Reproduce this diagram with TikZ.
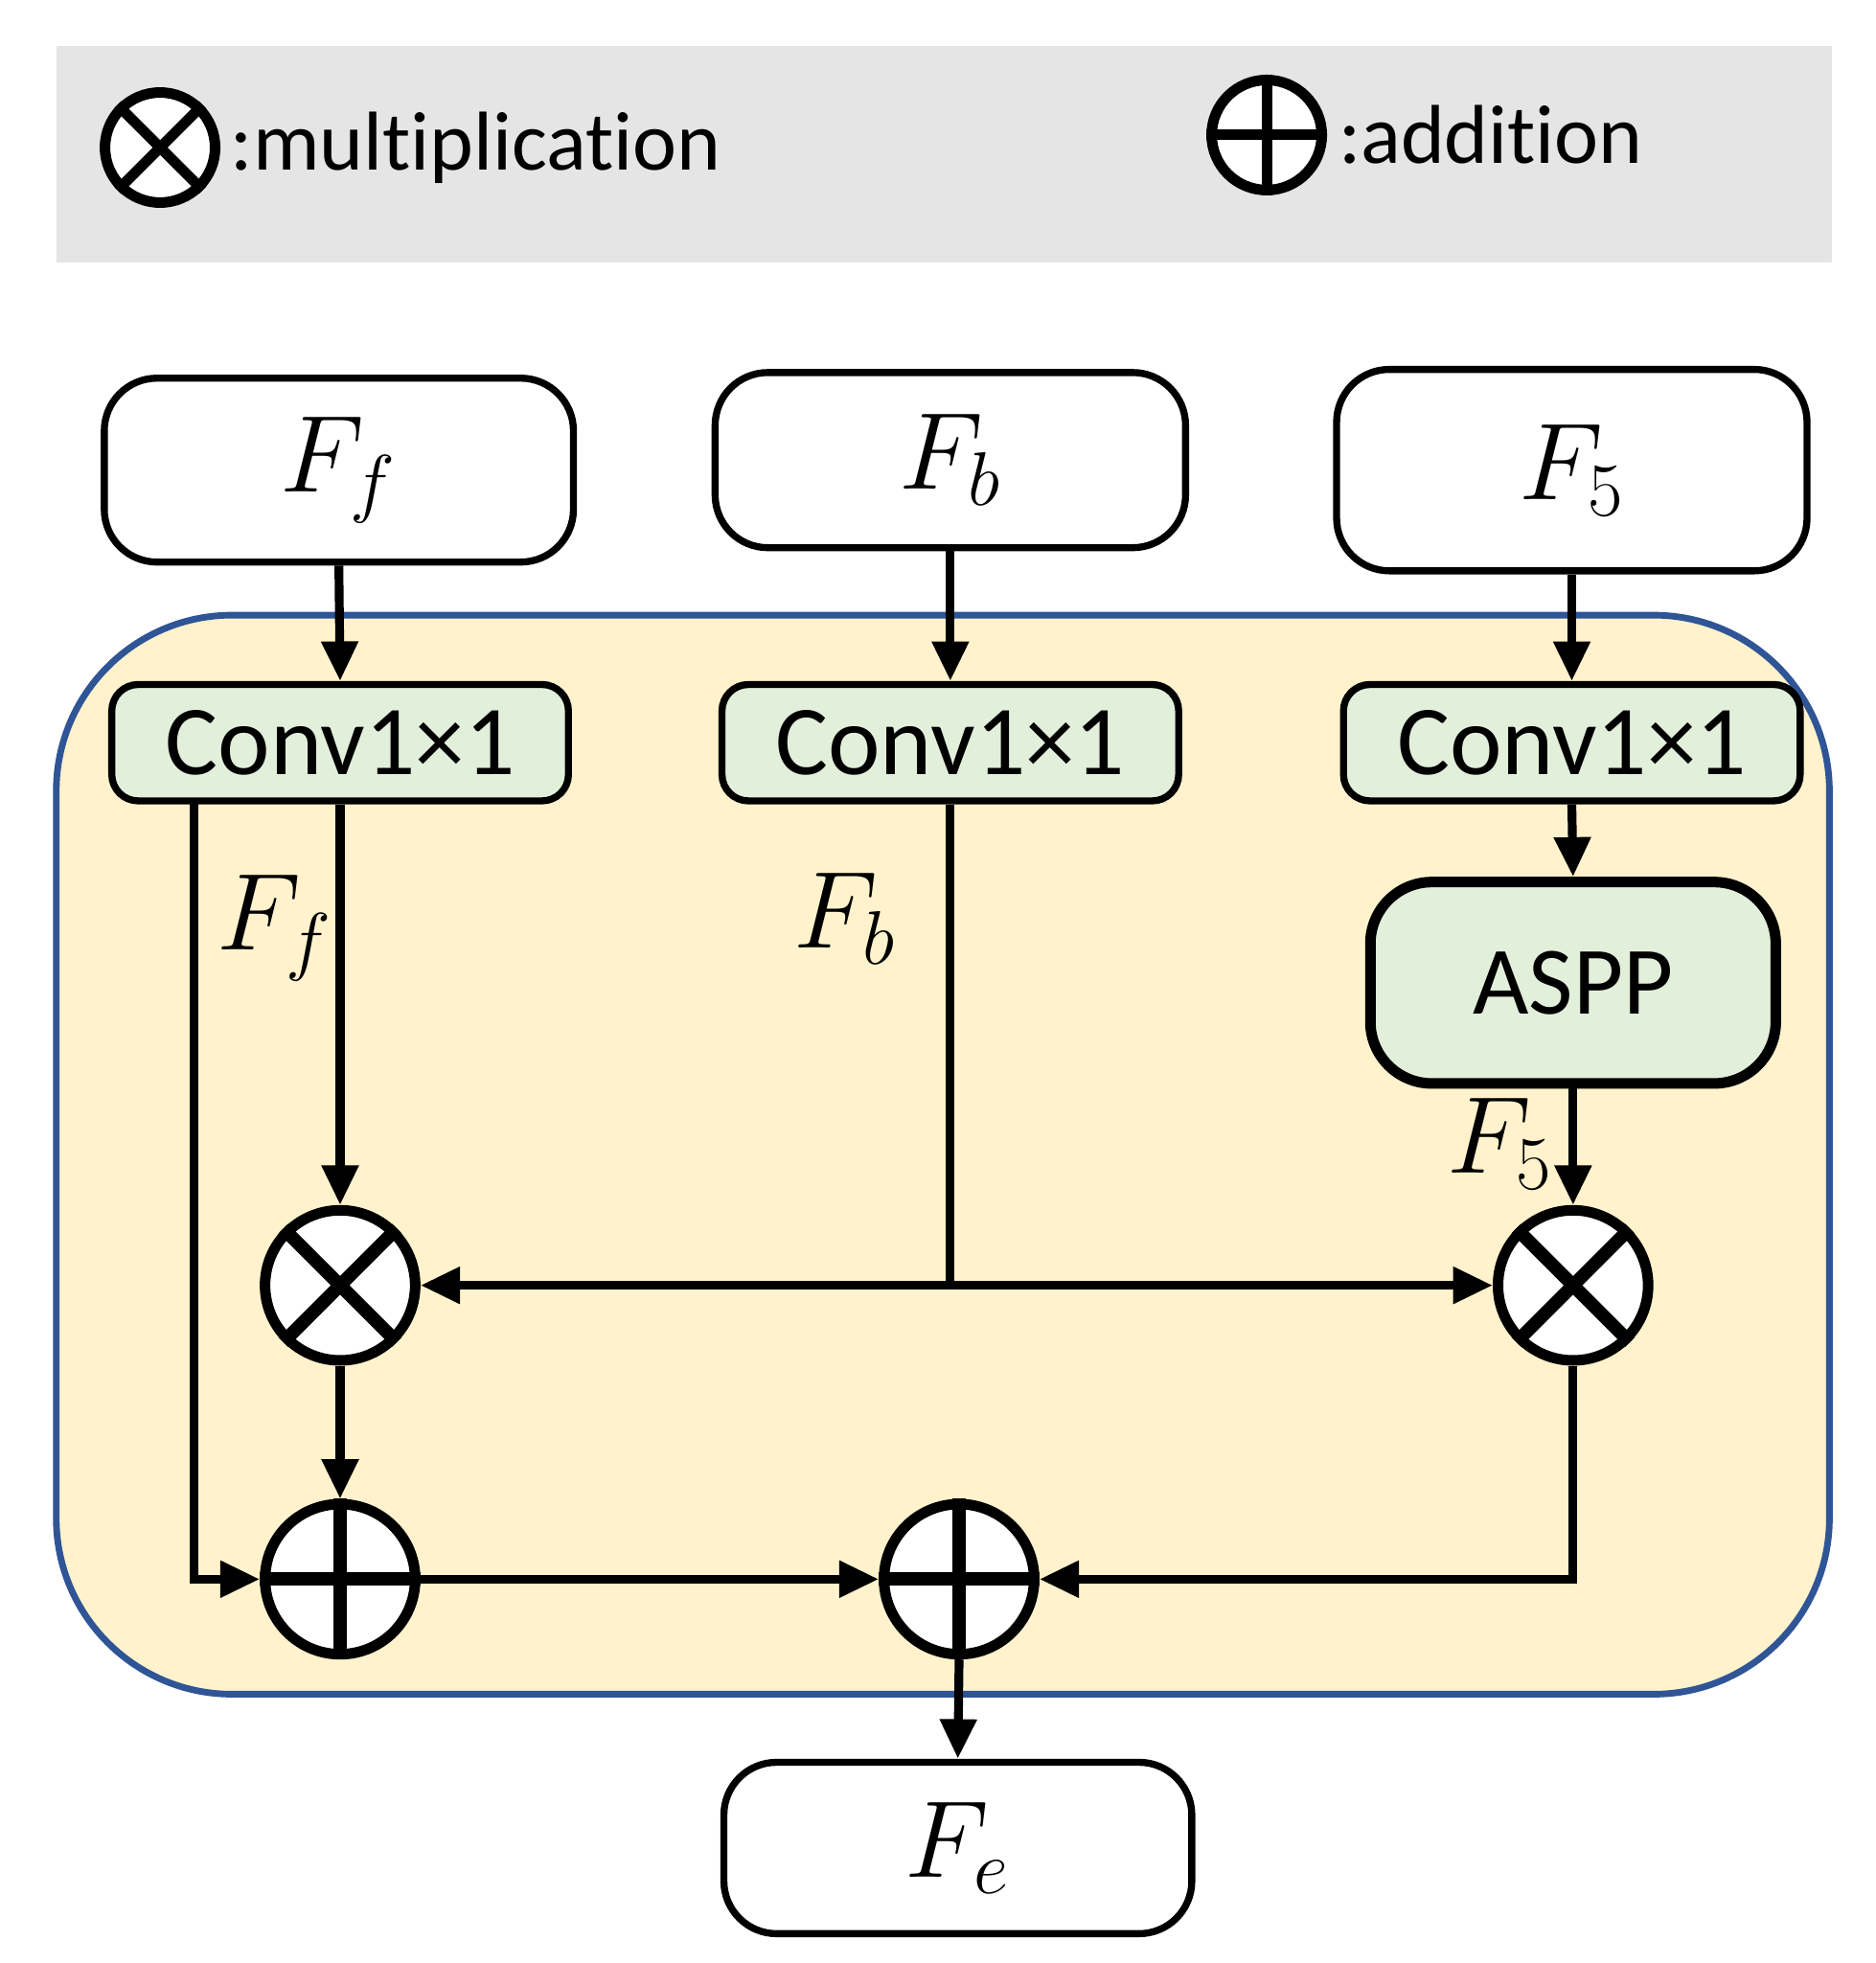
\documentclass[tikz,border=0pt]{standalone}
\usepackage{fontspec}
\setmainfont{Carlito}[Ligatures={NoCommon}]
\usetikzlibrary{arrows.meta}
\begin{document}
\begin{tikzpicture}[x=0.01cm,y=-0.01cm,
  box/.style={draw,line width=1.6pt,rounded corners=12pt,fill=white,inner sep=0pt},
  conv/.style={draw,line width=1.6pt,rounded corners=6pt,fill=convg,inner sep=0pt},
  arr/.style={line width=2pt,-{Triangle[length=9pt,width=8pt]}},
  ln/.style={line width=2pt},
  op/.style={draw,circle,line width=2.4pt,minimum size=1.2cm,inner sep=0pt,fill=white},
  lbl/.style={font=\fontsize{24}{26}\selectfont}]
\definecolor{convg}{HTML}{E2EFDA}
\definecolor{panel}{HTML}{FFF2CC}
\definecolor{pborder}{HTML}{2F5597}
\useasboundingbox (0,0) rectangle (1500,1570);
% legend
\fill[gray!20] (45,37) rectangle (1465,210);
\node[op,minimum size=0.88cm] (lm) at (128,118) {};
\draw[line width=2.4pt] (lm.north west)--(lm.south east) (lm.north east)--(lm.south west);
\node[anchor=west,font=\fontsize{19}{21}\selectfont] (lmt) at (172,118) {:multiplication};
\node[op,minimum size=0.88cm] (la) at (1013,108) {};
\draw[line width=2.4pt] (la.north)--(la.south) (la.east)--(la.west);
\node[anchor=west,font=\fontsize{19}{21}\selectfont] (lat) at (1058,108) {:addition};
% panel
\draw[fill=panel,draw=pborder,line width=1.5pt,rounded corners=40pt] (45,492) rectangle (1463,1355);
% top boxes
\node[box,minimum width=3.75cm,minimum height=1.47cm,lbl] (ff) at (271,376) {$F_f$};
\node[box,minimum width=3.76cm,minimum height=1.40cm,lbl] (fb) at (760,368) {$F_b$};
\node[box,minimum width=3.76cm,minimum height=1.61cm,lbl] (f5) at (1257,376) {$F_5$};
% convs
\foreach \n/\x in {c1/272,c2/760,c3/1257}
  \node[conv,minimum width=3.65cm,minimum height=0.93cm,font=\fontsize{22.5}{24}\selectfont] (\n) at (\x,594) {Conv1×1};
\node[conv,line width=2.4pt,rounded corners=14pt,minimum width=3.24cm,minimum height=1.61cm,font=\fontsize{22}{24}\selectfont] (aspp) at (1258,786) {ASPP};
% operators
\node[op] (m1) at (272,1028) {};
\node[op] (m2) at (1258,1028) {};
\node[op] (a1) at (272,1263) {};
\node[op] (a2) at (767,1263) {};
\foreach \m in {m1,m2} \draw[line width=3pt] (\m.north west)--(\m.south east) (\m.north east)--(\m.south west);
\foreach \m in {a1,a2} \draw[line width=3pt] (\m.north)--(\m.south) (\m.east)--(\m.west);
\node[box,minimum width=3.74cm,minimum height=1.37cm,lbl] (fe) at (766,1478) {$F_e$};
% arrows
\draw[arr] (ff.south) -- (c1.north);
\draw[arr] (fb.south) -- (c2.north);
\draw[arr] (f5.south) -- (c3.north);
\draw[arr] (c1.south) -- (m1.north);
\draw[arr] (c3.south) -- (aspp.north);
\draw[arr] (aspp.south) -- (m2.north);
\coordinate (j) at (760,1028);
\draw[ln] (c2.south) -- (j);
\draw[arr] (j) -- (m1.east);
\draw[arr] (j) -- (m2.west);
\coordinate (l1) at (155,641);
\coordinate (l2) at (155,1263);
\draw[arr] (l1) -- (l2) -- (a1.west);
\draw[arr] (m1.south) -- (a1.north);
\draw[arr] (a1.east) -- (a2.west);
\coordinate (r1) at (1258,1263);
\draw[arr] (m2.south) -- (r1) -- (a2.east);
\draw[arr] (a2.south) -- (fe.north);
% labels
\node[lbl] (lf) at (220,742) {$F_f$};
\node[lbl] (lb) at (676,735) {$F_b$};
\node[lbl] (l5) at (1200,915) {$F_5$};
\end{tikzpicture}
\end{document}
